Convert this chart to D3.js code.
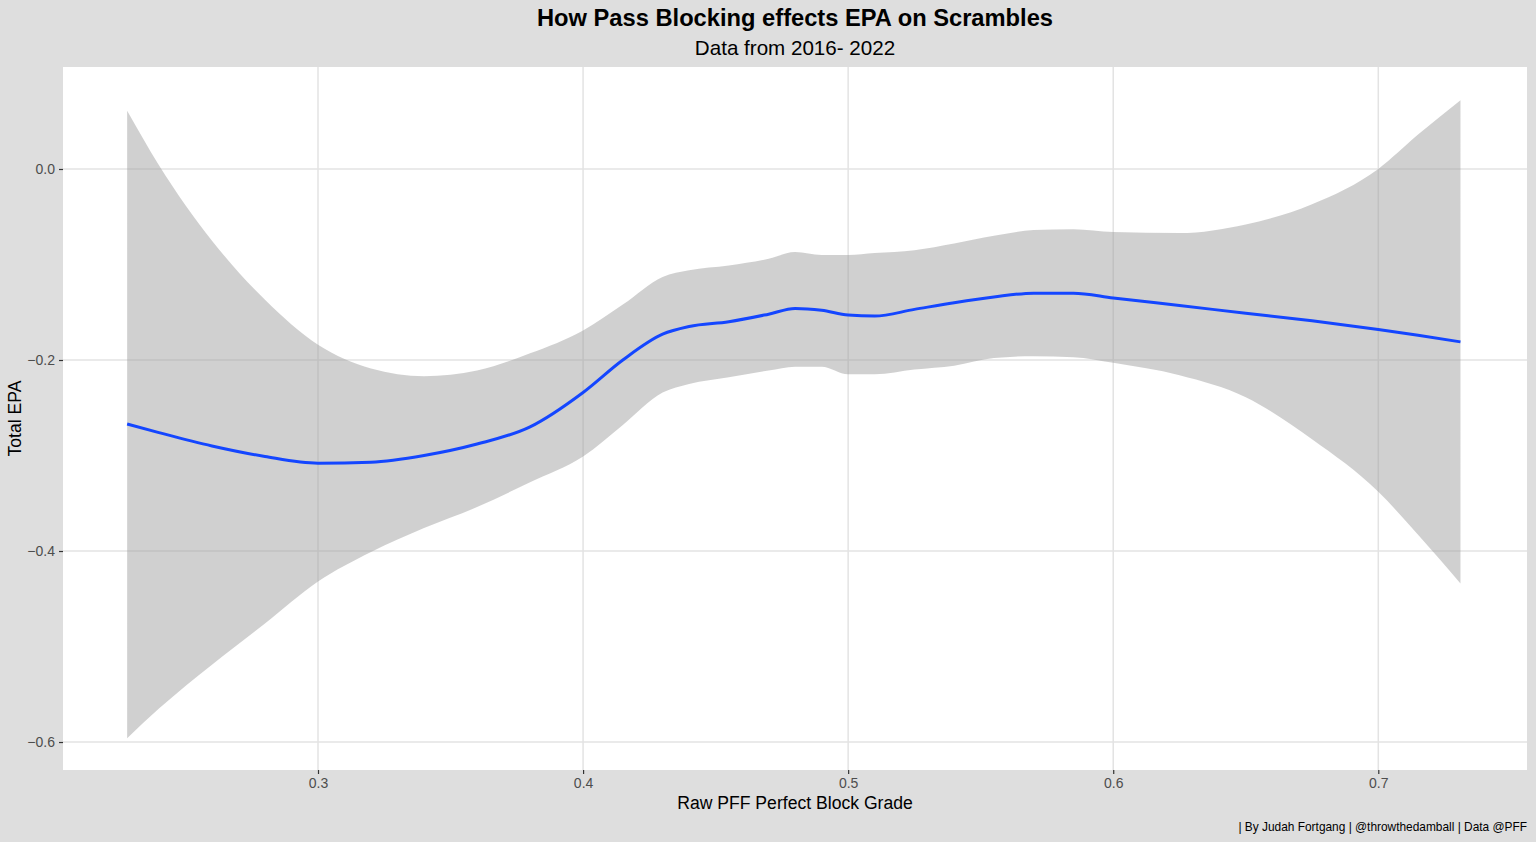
<!DOCTYPE html>
<html>
<head>
<meta charset="utf-8">
<script src="https://cdn.jsdelivr.net/npm/d3@7"></script>
<style>
    body { margin: 0; background: #dedede; }
    text { font-family: 'Liberation Sans', Arial, sans-serif; }
</style>
</head>
<body>
<div id="chart"></div>
<script>
// smoothed fit
const grade = [0.228, 0.24, 0.26, 0.28, 0.30, 0.32, 0.34, 0.36, 0.38, 0.40, 0.415, 0.43, 0.44, 0.455, 0.47, 0.48, 0.49, 0.50, 0.51, 0.525, 0.54, 0.555, 0.57, 0.585, 0.60, 0.625, 0.65, 0.675, 0.70, 0.715, 0.731];
const fitEpa = [-0.267, -0.276, -0.290, -0.301, -0.308, -0.307, -0.300, -0.288, -0.270, -0.234, -0.200, -0.173, -0.165, -0.160, -0.152, -0.146, -0.148, -0.153, -0.154, -0.147, -0.140, -0.134, -0.130, -0.130, -0.135, -0.143, -0.151, -0.159, -0.168, -0.174, -0.181];
const upperEpa = [0.061, 0.004, -0.075, -0.137, -0.184, -0.209, -0.217, -0.211, -0.193, -0.169, -0.142, -0.113, -0.106, -0.101, -0.094, -0.087, -0.090, -0.090, -0.088, -0.085, -0.078, -0.070, -0.064, -0.063, -0.066, -0.067, -0.058, -0.037, 0.000, 0.036, 0.072];
const lowerEpa = [-0.596, -0.565, -0.519, -0.476, -0.432, -0.401, -0.376, -0.354, -0.328, -0.301, -0.268, -0.234, -0.225, -0.218, -0.211, -0.207, -0.207, -0.215, -0.215, -0.210, -0.206, -0.198, -0.196, -0.197, -0.203, -0.216, -0.239, -0.283, -0.338, -0.383, -0.434];
const xTicks = [0.3, 0.4, 0.5, 0.6, 0.7];
const yTicks = [0.0, -0.2, -0.4, -0.6];

const width = 1536, height = 842;
const panel = {left: 63, right: 1527, top: 67, bottom: 770};

const svg = d3.select("#chart").append("svg")
    .attr("width", width).attr("height", height);

svg.append("rect").attr("width", width).attr("height", height).attr("fill", "#dedede");
svg.append("rect")
    .attr("x", panel.left).attr("y", panel.top)
    .attr("width", panel.right - panel.left).attr("height", panel.bottom - panel.top)
    .attr("fill", "#ffffff");

let x = d3.scaleLinear().domain([0.2038, 0.7561]).range([panel.left, panel.right]);
let y = d3.scaleLinear().domain([-0.6293, 0.1068]).range([panel.bottom, panel.top]);

// gridlines
xTicks.forEach(t => svg.append("line").attr("x1", x(t)).attr("x2", x(t)).attr("y1", panel.top).attr("y2", panel.bottom).attr("stroke", "#e3e3e3").attr("stroke-width", 1.5));
yTicks.forEach(t => svg.append("line").attr("x1", panel.left).attr("x2", panel.right).attr("y1", y(t)).attr("y2", y(t)).attr("stroke", "#e3e3e3").attr("stroke-width", 1.5));

let rows = grade.map((g, i) => ({g: g, fit: fitEpa[i], lo: lowerEpa[i], hi: upperEpa[i]}));

let area = d3.area().x(d => x(d.g)).y0(d => y(d.lo)).y1(d => y(d.hi)).curve(d3.curveMonotoneX);
svg.append("path").datum(rows).attr("d", area).attr("fill", "#999999").attr("fill-opacity", 0.46);

let line = d3.line().x(d => x(d.g)).y(d => y(d.fit)).curve(d3.curveMonotoneX);
svg.append("path").datum(rows).attr("d", line).attr("fill", "none").attr("stroke", "#1446ff").attr("stroke-width", 3);

// axes
let xAxis = svg.append("g").attr("transform", `translate(0,${panel.bottom})`)
    .call(d3.axisBottom(x).tickValues(xTicks).tickFormat(d3.format(".1f")).tickSize(4).tickPadding(4));
let yAxis = svg.append("g").attr("transform", `translate(${panel.left},0)`)
    .call(d3.axisLeft(y).tickValues(yTicks).tickFormat(d3.format(".1f")).tickSize(4).tickPadding(4));
[xAxis, yAxis].forEach(a => {
    a.select(".domain").remove();
    a.selectAll(".tick line").attr("stroke", "#333333").attr("stroke-width", 1.2);
    a.selectAll(".tick text").attr("fill", "#4d4d4d").style("font-size", "14px").style("font-family", "'Liberation Sans', Arial, sans-serif");
});

const cx = (panel.left + panel.right) / 2;
svg.append("text").attr("x", cx).attr("y", 26).attr("text-anchor", "middle")
    .style("font-size", "23.7px").style("font-weight", "bold").attr("fill", "#000").text("How Pass Blocking effects EPA on Scrambles");
svg.append("text").attr("x", cx).attr("y", 55).attr("text-anchor", "middle")
    .style("font-size", "20.6px").attr("fill", "#000").text("Data from 2016- 2022");
svg.append("text").attr("x", cx).attr("y", 809).attr("text-anchor", "middle")
    .style("font-size", "17.6px").attr("fill", "#000").text("Raw PFF Perfect Block Grade");
svg.append("text").attr("transform", `translate(21,${(panel.top + panel.bottom) / 2}) rotate(-90)`).attr("text-anchor", "middle")
    .style("font-size", "17.6px").attr("fill", "#000").text("Total EPA");
svg.append("text").attr("x", panel.right).attr("y", 831).attr("text-anchor", "end")
    .style("font-size", "11.9px").attr("fill", "#000").text("| By Judah Fortgang | @throwthedamball | Data @PFF");
</script>
</body>
</html>
